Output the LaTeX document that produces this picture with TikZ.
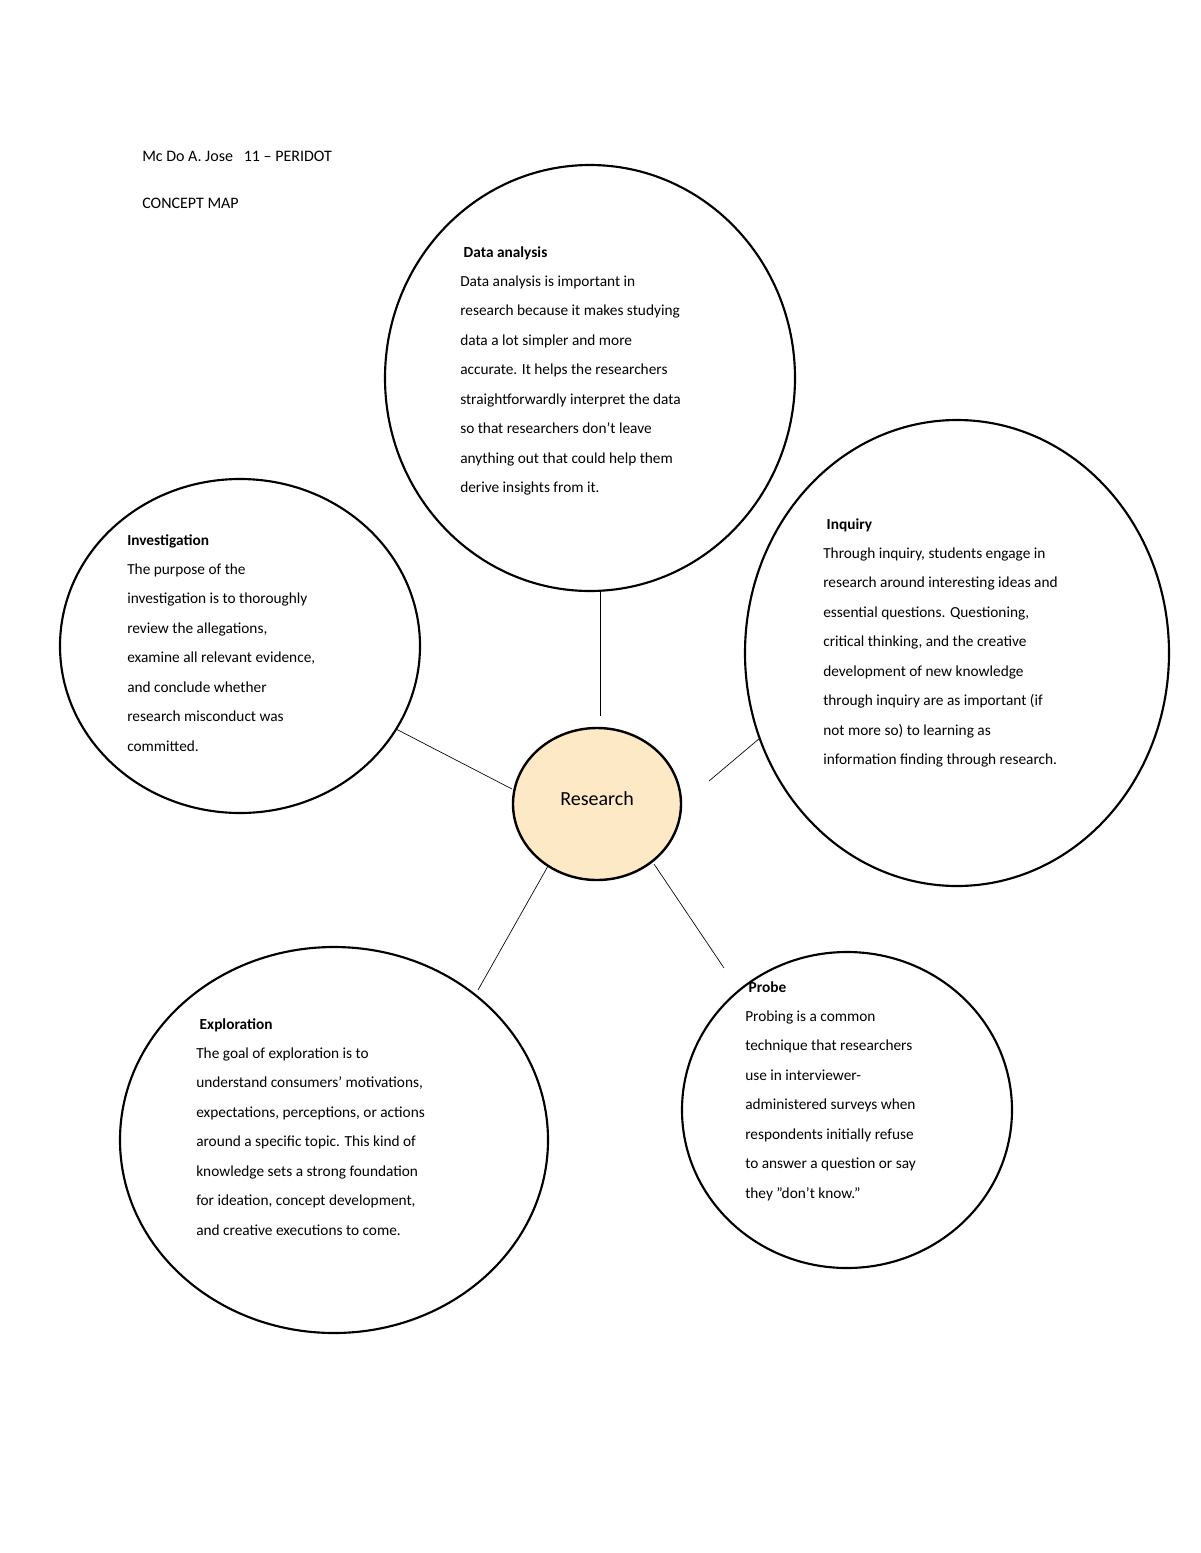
\documentclass[tikz,border=0pt]{standalone}
\usepackage{fontspec}
\setmainfont{Carlito}
\usetikzlibrary{shapes.geometric}
\begin{document}
\begin{tikzpicture}[x=0.75pt,y=-0.75pt,
 bub/.style={draw,line width=1.6pt},
 txt/.style={anchor=north west,align=left,inner sep=0pt,font=\fontsize{11.5}{22.1}\selectfont},
 con/.style={line width=0.5pt}]
\useasboundingbox (0,0) rectangle (1200,1553);
\node[anchor=west,inner sep=0pt,font=\fontsize{12}{14}\selectfont] (h1) at (142,156) {Mc Do A. Jose\ \ \ 11 – PERIDOT};
\node[anchor=west,inner sep=0pt,font=\fontsize{12}{14}\selectfont] (h2) at (142,203) {CONCEPT MAP};
\draw[bub] (590,378) ellipse [x radius=205,y radius=213];
\draw[bub] (240,646) ellipse [x radius=180,y radius=167];
\draw[bub] (957,653) ellipse [x radius=212,y radius=233];
\draw[bub] (334,1140) ellipse [x radius=214,y radius=193];
\draw[bub] (847,1110) ellipse [x radius=165,y radius=158];
\draw[line width=1.8pt,fill=yellow!20!orange!20!white] (597,804) ellipse [x radius=84,y radius=76];
\node[font=\fontsize{15}{18}\selectfont] (res) at (597,799) {Research};
\coordinate (a1) at (600,590); \coordinate (a2) at (600,716);
\coordinate (b1) at (396,729); \coordinate (b2) at (512,789);
\coordinate (c1) at (709,781); \coordinate (c2) at (760,738);
\coordinate (d1) at (548,866); \coordinate (d2) at (478,990);
\coordinate (e1) at (654,864); \coordinate (e2) at (724,968);
\draw[con] (a1)--(a2); \draw[con] (b1)--(b2); \draw[con] (c1)--(c2);
\draw[con] (d1)--(d2); \draw[con] (e1)--(e2);
\node[txt] (t1) at (460,246) {\ \textbf{Data analysis}\\Data analysis is important in\\research because it makes studying\\data a lot simpler and more\\accurate. It helps the researchers\\straightforwardly interpret the data\\so that researchers don't leave\\anything out that could help them\\derive insights from it.};
\node[txt] (t2) at (127,534) {\textbf{Investigation}\\The purpose of the\\investigation is to thoroughly\\review the allegations,\\examine all relevant evidence,\\and conclude whether\\research misconduct was\\committed.};
\node[txt] (t3) at (823,518) {\ \textbf{Inquiry}\\Through inquiry, students engage in\\research around interesting ideas and\\essential questions. Questioning,\\critical thinking, and the creative\\development of new knowledge\\through inquiry are as important (if\\not more so) to learning as\\information finding through research.};
\node[txt] (t4) at (196,1018) {\ \textbf{Exploration}\\The goal of exploration is to\\understand consumers' motivations,\\expectations, perceptions, or actions\\around a specific topic. This kind of\\knowledge sets a strong foundation\\for ideation, concept development,\\and creative executions to come.};
\node[txt] (t5) at (745,981) {\ \textbf{Probe}\\Probing is a common\\technique that researchers\\use in interviewer-\\administered surveys when\\respondents initially refuse\\to answer a question or say\\they "don't know."};
\end{tikzpicture}
\end{document}
